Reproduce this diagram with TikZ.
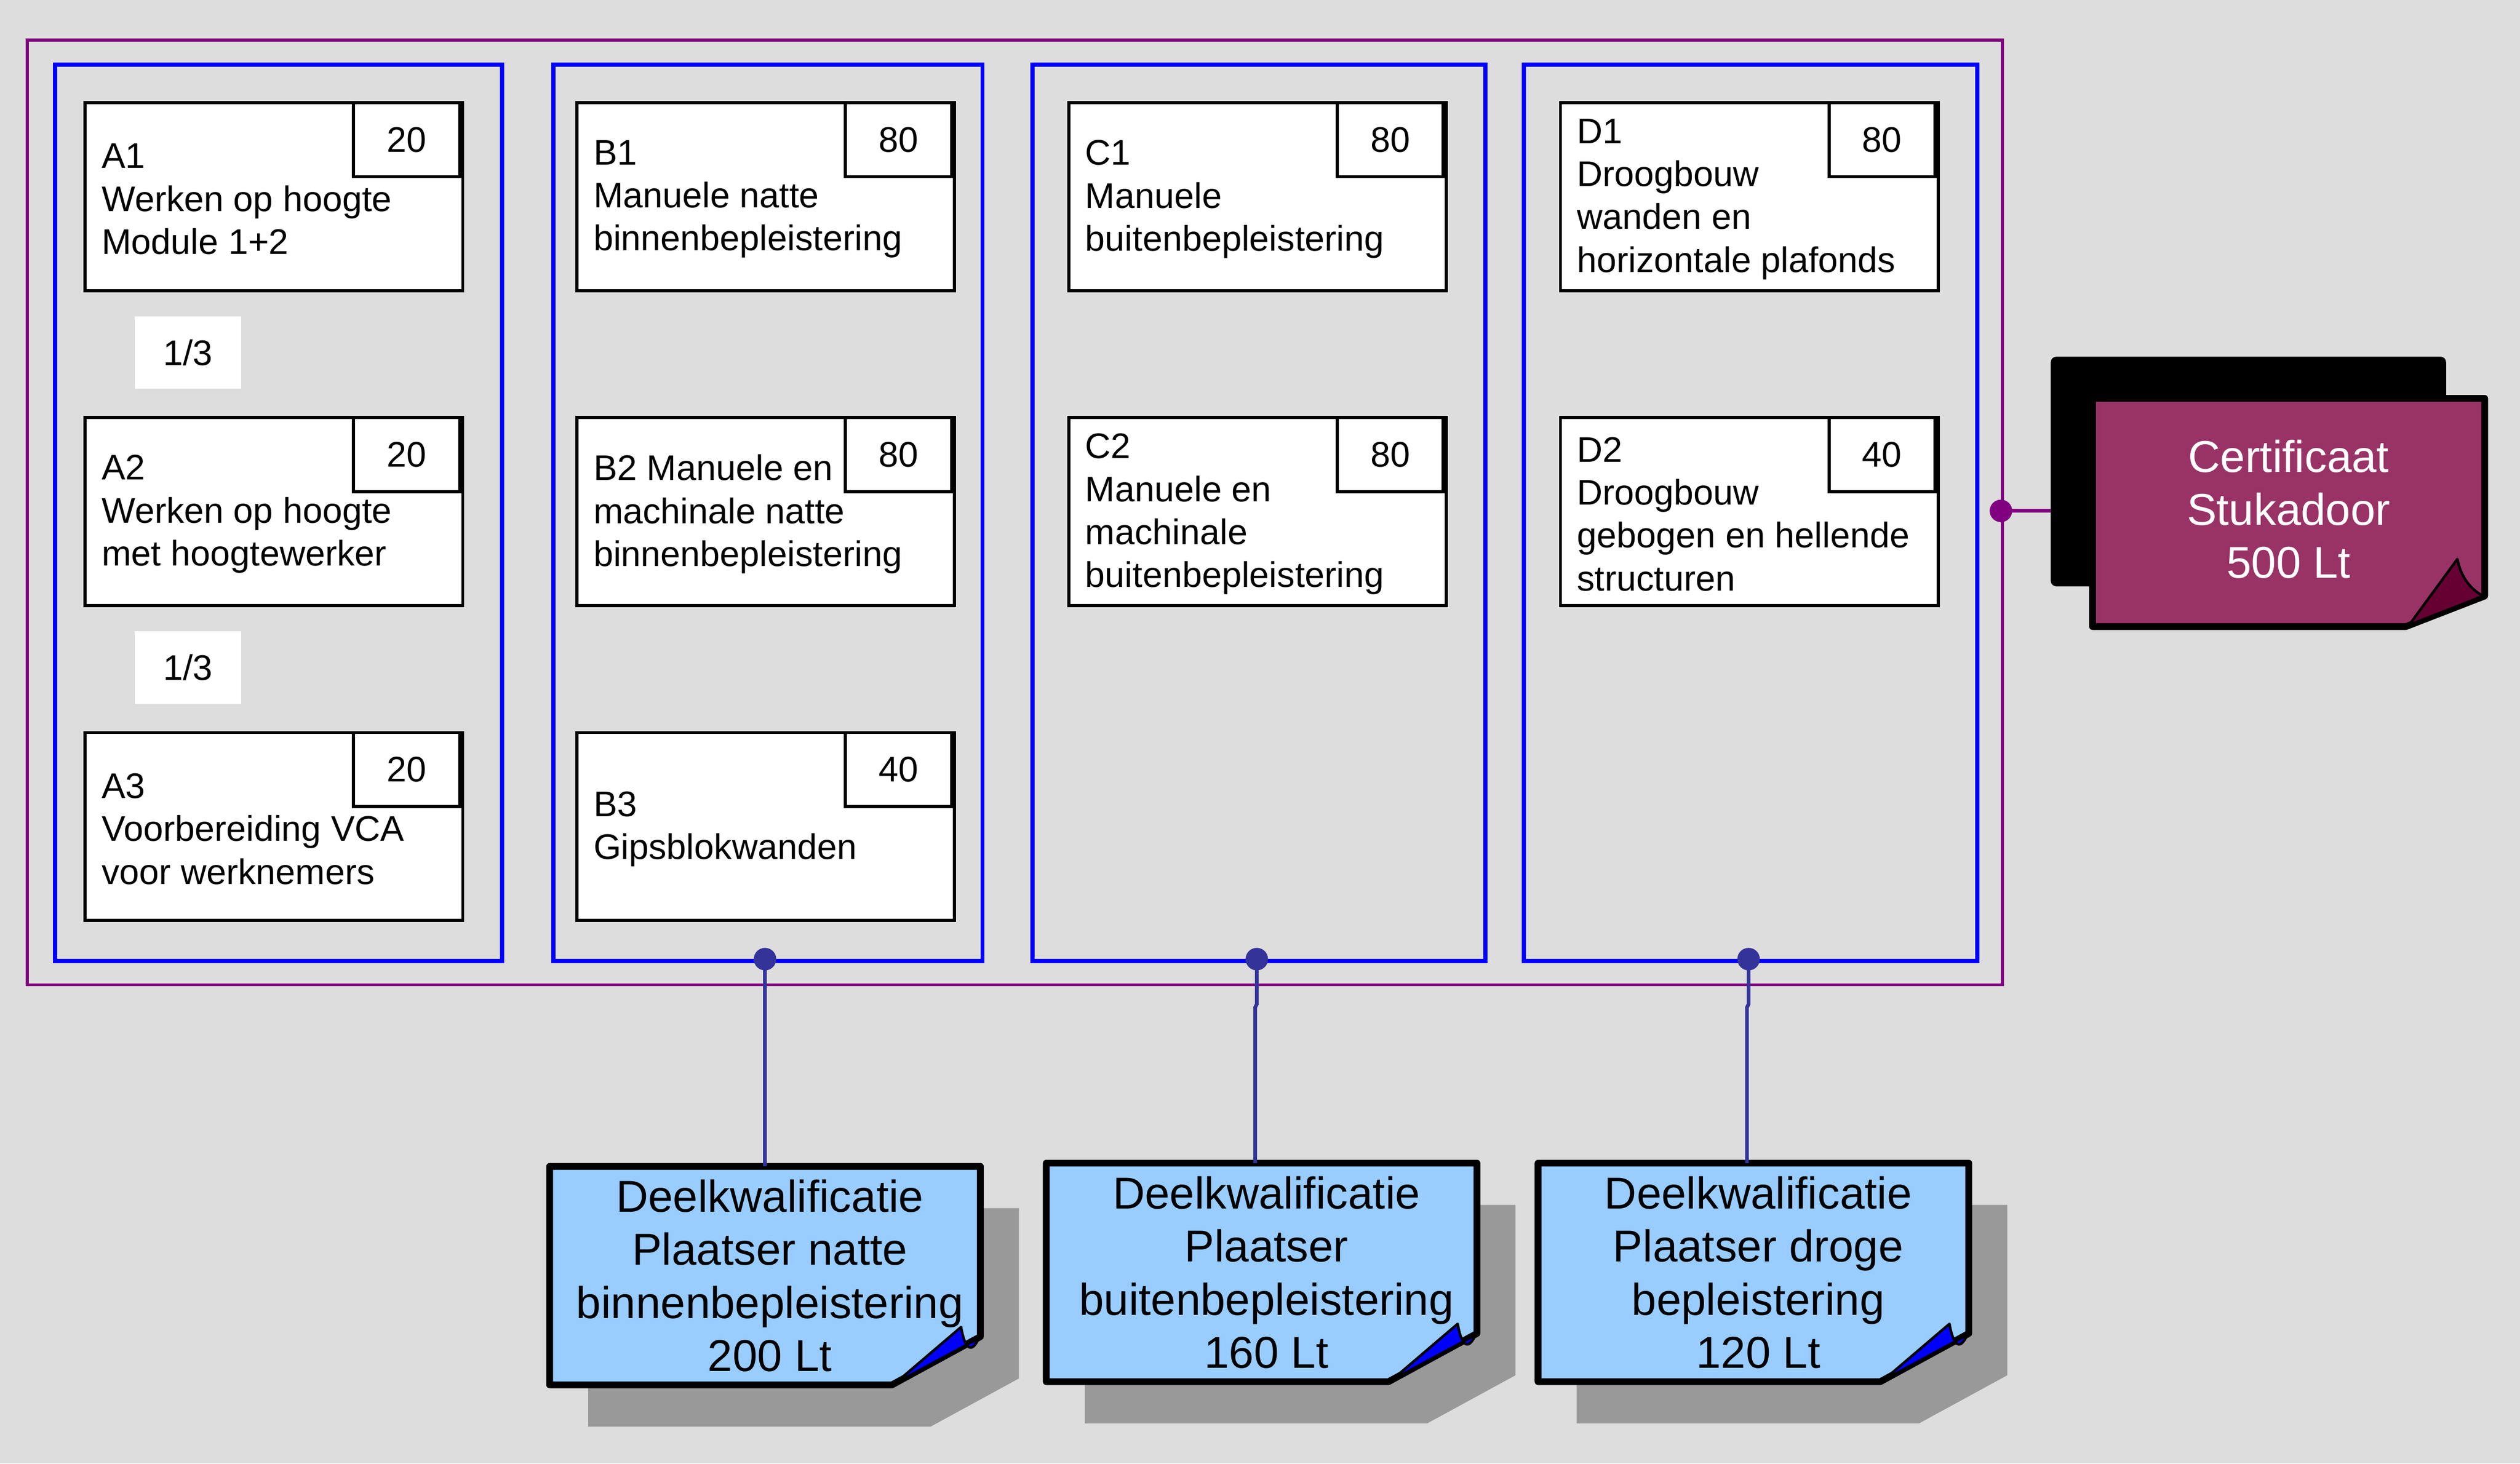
\documentclass[tikz,border=0pt]{standalone}
\usepackage{fontspec}
\setmainfont{Liberation Sans}
\begin{document}
\begin{tikzpicture}[x=0.02cm,y=-0.02cm,
  col/.style={draw=blue,line width=1.5pt},
  mbox/.style={draw=black,fill=white,line width=1.1pt},
  txt/.style={font=\fontsize{12.6}{15.2}\selectfont,align=left,inner sep=0pt,anchor=west},
  num/.style={font=\fontsize{12.6}{15.2}\selectfont,inner sep=0pt},
  big/.style={font=\fontsize{15.8}{18.8}\selectfont,align=center,inner sep=0pt},
  dot/.style={circle,fill=#1,inner sep=0pt,minimum size=0.28cm}]
\definecolor{bg}{HTML}{DDDDDD}
\definecolor{pur}{HTML}{800080}
\definecolor{lnk}{HTML}{333399}
\definecolor{docfill}{HTML}{99CCFF}
\definecolor{cert}{HTML}{993366}
\definecolor{certd}{HTML}{660033}
\fill[bg] (0,0) rectangle (1568,911);
\useasboundingbox (0,0) rectangle (1568,911);
\node[draw=pur,line width=1.1pt,minimum width=1229*0.02cm,minimum height=588*0.02cm,inner sep=0pt,anchor=north west] (outer) at (16,24) {};
% columns
\node[col,minimum width=278*0.02cm,minimum height=558*0.02cm,inner sep=0pt,anchor=north west] (colA) at (33,39) {};
\node[col,minimum width=267*0.02cm,minimum height=558*0.02cm,inner sep=0pt,anchor=north west] (colB) at (343,39) {};
\node[col,minimum width=282*0.02cm,minimum height=558*0.02cm,inner sep=0pt,anchor=north west] (colC) at (641,39) {};
\node[col,minimum width=282*0.02cm,minimum height=558*0.02cm,inner sep=0pt,anchor=north west] (colD) at (947,39) {};
% module boxes
\newcommand\mbx[5]{%
  \node[mbox,minimum width=235*0.02cm,minimum height=117*0.02cm,inner sep=0pt,anchor=north west] (#1) at (#2,#3) {};
  \node[mbox,minimum width=66*0.02cm,minimum height=46*0.02cm,inner sep=0pt,anchor=north east] (#1n) at (#2+235,#3) {};
  \node[num] at (#1n.center) {#4};
  \node[txt] (#1t) at (#2+11,#3+61) {#5};
}
\mbx{A1}{52}{63}{20}{A1\\Werken op hoogte\\Module 1+2}
\mbx{A2}{52}{259}{20}{A2\\Werken op hoogte\\met hoogtewerker}
\mbx{A3}{52}{455}{20}{A3\\Voorbereiding VCA\\voor werknemers}
\mbx{B1}{358}{63}{80}{B1\\Manuele natte\\binnenbepleistering}
\mbx{B2}{358}{259}{80}{B2 Manuele en\\machinale natte\\binnenbepleistering}
\mbx{B3}{358}{455}{40}{B3\\Gipsblokwanden}
\mbx{C1}{664}{63}{80}{C1\\Manuele\\buitenbepleistering}
\mbx{C2}{664}{259}{80}{C2\\Manuele en\\machinale\\buitenbepleistering}
\mbx{D1}{970}{63}{80}{D1\\Droogbouw\\wanden en\\horizontale plafonds}
\mbx{D2}{970}{259}{40}{D2\\Droogbouw\\gebogen en hellende\\structuren}
\node[fill=white,minimum width=66*0.02cm,minimum height=45*0.02cm,inner sep=0pt,num] (r1) at (117,219.5) {1/3};
\node[fill=white,minimum width=66*0.02cm,minimum height=45*0.02cm,inner sep=0pt,num] (r2) at (117,415.5) {1/3};
% documents
\newcommand\doc[5]{%
  \fill[black!40] (#2+24,#3+26) -- (#2+24+268,#3+26) -- (#2+24+268,#3+26+106) -- (#2+24+213,#3+26+136) -- (#2+24,#3+26+136) -- cycle;
  \draw[fill=docfill,line width=2.4pt,line join=round] (#2,#3) -- (#2+268,#3) -- (#2+268,#3+106) -- (#2+213,#3+136) -- (#2,#3+136) -- cycle;
  \draw[fill=blue,line width=0.9pt,line join=round] (#2+215,#3+135) -- (#2+256,#3+100) .. controls (#2+258,#3+112) and (#2+262,#3+118) .. (#2+267,#3+107) -- cycle;
  \node[big] (#1) at (#2+137,#3+68) {#4};
  \coordinate (#1top) at (#5,#3);
}
\doc{dB}{342}{726}{Deelkwalificatie\\Plaatser natte\\binnenbepleistering\\200 Lt}{476}
\doc{dC}{651}{724}{Deelkwalificatie\\Plaatser\\buitenbepleistering\\160 Lt}{781}
\doc{dD}{957}{724}{Deelkwalificatie\\Plaatser droge\\bepleistering\\120 Lt}{1087}
\coordinate (pB) at (476,597);
\coordinate (pC) at (782,597);
\coordinate (pD) at (1088,597);
\draw[lnk,line width=1.3pt] (pB) -- (dBtop);
\draw[lnk,line width=1.3pt] (pC) -- (782,625) -- (781,627) -- (dCtop);
\draw[lnk,line width=1.3pt] (pD) -- (1088,625) -- (1087,627) -- (dDtop);
\node[dot=lnk] at (pB) {};
\node[dot=lnk] at (pC) {};
\node[dot=lnk] at (pD) {};
% certificate
\coordinate (pE) at (1245,318);
\fill[black,rounded corners=2pt] (1276,222) rectangle (1522,365);
\draw[fill=cert,line width=2.4pt,line join=round] (1302,248) -- (1546,248) -- (1546,371) -- (1497,390) -- (1302,390) -- cycle;
\draw[fill=certd,line width=0.9pt,line join=round] (1499,389) -- (1529,348) .. controls (1531,358) and (1536,366) .. (1545,371) -- cycle;
\node[big,text=white] (cert) at (1424,317) {Certificaat\\Stukadoor\\500 Lt};
\draw[pur,line width=1.3pt] (pE) -- (1276,318);
\node[dot=pur] at (pE) {};
\end{tikzpicture}
\end{document}
